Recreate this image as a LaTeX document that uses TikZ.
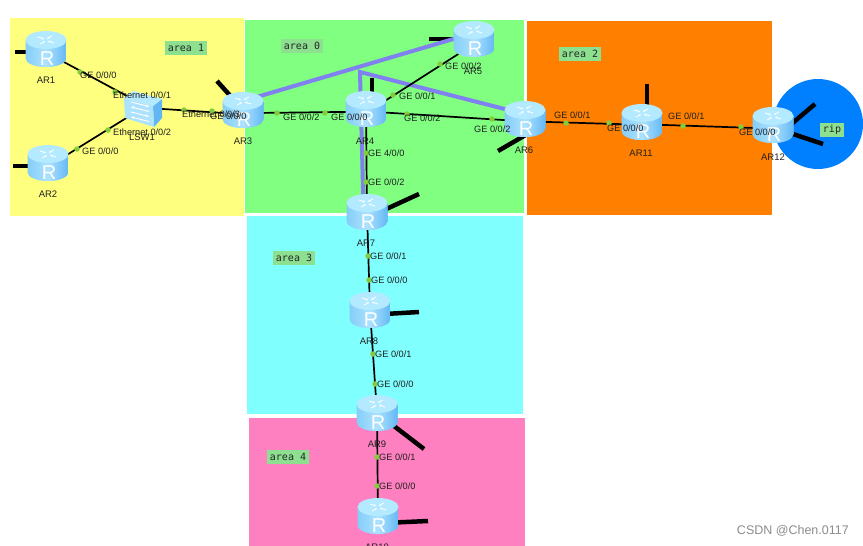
\documentclass[tikz,border=0pt]{standalone}
\usepackage{fontspec}
\setmainfont{Liberation Sans}
\newfontfamily\monof{DejaVu Sans Mono}
\usetikzlibrary{arrows.meta}
\pgfdeclarelayer{areas}
\pgfdeclarelayer{links}
\pgfsetlayers{areas,links,main}
\definecolor{cyellow}{HTML}{FFFF7F}
\definecolor{cgreen}{HTML}{80FF80}
\definecolor{corange}{HTML}{FF8000}
\definecolor{ccyan}{HTML}{80FFFF}
\definecolor{cpink}{HTML}{FF80C0}
\definecolor{cblue}{HTML}{0080FF}
\definecolor{cpurple}{HTML}{8080F0}
\definecolor{cport}{HTML}{84CC3C}
\definecolor{cnote}{HTML}{8CE090}
\definecolor{ctext}{HTML}{202020}
\definecolor{rleft}{HTML}{84CDF8}
\definecolor{rmid}{HTML}{ACE2FE}
\definecolor{rright}{HTML}{62B6F4}
\definecolor{rtop}{HTML}{B4EAFF}
\newcommand{\routerart}{%
  \begin{scope}[shift={(path picture bounding box.center)}]
    \begin{scope}
      \clip (-20.5,-9) -- (-20.5,9) arc[start angle=180,end angle=0,x radius=20.5,y radius=9] -- (20.5,-9) -- cycle;
      \foreach \i in {-21,...,-1}{
        \pgfmathsetmacro{\pc}{(\i+21)/21*100}
        \fill[rmid!\pc!rleft] (\i,-10) rectangle (\i+1.6,19);}
      \foreach \i in {0,...,20}{
        \pgfmathsetmacro{\pc}{\i/21*100}
        \fill[rright!\pc!rmid] (\i,-10) rectangle (\i+1.6,19);}
    \end{scope}
    \fill[rtop] (0,-9) ellipse[x radius=20.5,y radius=9];
    \foreach \a/\b/\c/\d in {-8/-12/-2/-10, 8/-6/2/-8, 6/-13/1/-10.5, -6/-5/-1/-7.5}
      \draw[white,line width=.8pt,-{Stealth[length=2.2pt,width=2.2pt]}] (\a,\b) -- (\c,\d);
  \end{scope}}
\newcommand{\switchart}{%
  \begin{scope}[shift={(path picture bounding box.center)}]
    \fill[rright] (10,-3) -- (19,-10) -- (19,9) -- (11,18) -- cycle;
    \fill[rtop] (-19,-11) -- (-10,-18) -- (19,-10) -- (10,-3) -- cycle;
    \fill[rmid] (-19,-11) -- (10,-3) -- (11,18) -- (-18,9) -- cycle;
    \draw[white,line width=.9pt,-{Stealth[length=3pt,width=3pt]}] (-12,-7) -- (6,-2.5);
    \draw[white,line width=.9pt,{Stealth[length=3pt,width=3pt]}-] (-12,-2) -- (6,2.5);
    \draw[white,line width=.9pt,-{Stealth[length=3pt,width=3pt]}] (-12,3) -- (6,7.5);
    \draw[white,line width=.9pt,{Stealth[length=3pt,width=3pt]}-] (-12,8) -- (6,12.5);
  \end{scope}}
\tikzset{
  x=1pt,y=-1pt,
  router/.style={inner sep=0,minimum width=41pt,minimum height=36pt,path picture={\routerart}},
  routerglyph/.style={inner sep=0,text=white,font=\fontsize{20}{20}\selectfont},
  switchnode/.style={inner sep=0,minimum width=40pt,minimum height=38pt,path picture={\switchart}},
  link/.style={draw=black,line width=1.7pt,shorten <=-6pt,shorten >=-6pt},
  stub/.style={draw=black,line width=4.5pt,shorten <=-6pt},
  ospf/.style={draw=cpurple,line width=4pt,shorten <=-6pt,shorten >=-6pt},
  portdot/.style={circle,fill=cport,inner sep=0,minimum size=5.5pt},
  portlabel/.style={anchor=west,inner sep=0,text=ctext,font=\fontsize{9.2}{9.2}\selectfont},
  devlabel/.style={inner sep=0,text=ctext,font=\fontsize{9.5}{9.5}\selectfont},
  note/.style={fill=cnote,inner sep=0,minimum height=14.5pt,font=\monof\fontsize{10}{10}\selectfont,text=black!85},
  mark text/.style={text=black!45,font=\fontsize{12.5}{12.5}\selectfont}
}
\newcommand{\ifc}[4]{\node[portdot] (p#1) at (#2) {}; \node[portlabel] (l#1) at (#3) {#4};}
\newcommand{\rt}[4]{\node[router] (#1) at (#2) {}; \node[routerglyph,yshift=-10pt,xshift=1pt] (g#1) at (#2) {R}; \node[devlabel] (t#1) at (#3) {#4};}
\begin{document}
\begin{tikzpicture}
\useasboundingbox (0,0) rectangle (863,546);
\begin{pgfonlayer}{areas}
  \fill[white] (0,0) rectangle (863,546);
  \fill[cblue] (818,124) circle[radius=45];
  \fill[cyellow] (10,18) rectangle (244,216);
  \fill[cgreen] (245,20) rectangle (524,213);
  \fill[corange] (527,21) rectangle (772,215);
  \fill[ccyan] (247,216) rectangle (523,414);
  \fill[cpink] (249,418) rectangle (525,546);
\end{pgfonlayer}

\rt{AR1}{46,49}{46,80}{AR1}
\rt{AR2}{48,163}{48,194}{AR2}
\rt{AR3}{243,110}{243,141}{AR3}
\rt{AR4}{366,109}{365,141}{AR4}
\rt{AR5}{474,39}{473,71}{AR5}
\rt{AR6}{525,119}{524,150}{AR6}
\rt{AR7}{367,212}{366,243}{AR7}
\rt{AR8}{370,310}{369,341}{AR8}
\rt{AR9}{377,413}{377,444}{AR9}
\rt{AR10}{378,516}{377,547}{AR10}
\rt{AR11}{642,122}{641,153}{AR11}
\rt{AR12}{773,125}{773,157}{AR12}
\node[switchnode] (LSW1) at (143,109) {};
\node[devlabel] (tLSW1) at (142,137) {LSW1};

\coordinate (s1) at (15,52);
\coordinate (s2) at (13,166);
\coordinate (s3) at (217,81);
\coordinate (s4) at (372,78);
\coordinate (s5) at (429,39);
\coordinate (s6) at (498,151);
\coordinate (s7) at (419,194);
\coordinate (s8) at (419,312);
\coordinate (s9) at (424,449);
\coordinate (s10) at (428,521);
\coordinate (s11) at (647,84);
\coordinate (s12a) at (815,104);
\coordinate (s12b) at (823,144);
\coordinate (bend) at (360,72);

\begin{pgfonlayer}{links}
  \draw[stub] (AR1.center |- s1) -- (s1);
  \draw[stub] (AR2.center |- s2) -- (s2);
  \draw[stub] (AR3.center) -- (s3);
  \draw[stub] (AR4.center -| s4) -- (s4);
  \draw[stub] (AR5.west) -- (s5);
  \draw[stub] (AR6.-100) -- (s6);
  \draw[stub] (AR7.10) -- (s7);
  \draw[stub] (AR8.-10) -- (s8);
  \draw[stub] (AR9.center) -- (s9);
  \draw[stub] (AR10.-17) -- (s10);
  \draw[stub] (AR11.center -| s11) -- (s11);
  \draw[stub] (AR12.8) -- (s12a);
  \draw[stub] (AR12.-24) -- (s12b);
  \draw[ospf] (AR3.36) -- (AR5.west);
  \draw[ospf] (AR7.102) -- (bend) -- (AR6.154);
  \draw[link] (AR1.-35) -- (LSW1.143);
  \draw[link] (AR2.24) -- (LSW1.209);
  \draw[link] (LSW1.east) -- (AR3.188);
  \draw[link] (AR3.-8) -- (AR4.188);
  \draw[link] (AR4.24) -- (AR5.south west);
  \draw[link] (AR4.-10) -- (AR6.183);
  \draw[link] (AR4.center) -- (AR7.center);
  \draw[link] (AR6.-8) -- (AR11.186);
  \draw[link] (AR11.-8) -- (AR12.188);
  \draw[link] (AR7.center) -- (AR8.center);
  \draw[link] (AR8.center) -- (AR9.center);
  \draw[link] (AR9.center) -- (AR10.center);
\end{pgfonlayer}

\ifc{a}{80,72}{80,75}{GE 0/0/0}
\ifc{b}{115,92}{113,95}{Ethernet 0/0/1}
\ifc{c}{77,149}{82,151}{GE 0/0/0}
\ifc{d}{108,130}{113,132}{Ethernet 0/0/2}
\ifc{e}{184,110}{182,114}{Ethernet 0/0/3}
\ifc{f}{212,111}{210,116}{GE 0/0/0}
\ifc{g}{277,113}{283,117}{GE 0/0/2}
\ifc{h}{325,113}{331,117}{GE 0/0/0}
\ifc{i}{407,114}{404,118}{GE 0/0/2}
\ifc{j}{492,119}{474,129}{GE 0/0/2}
\ifc{k}{393,95}{399,96}{GE 0/0/1}
\ifc{m}{440,64}{445,66}{GE 0/0/2}
\ifc{n}{366,153}{368,153}{GE 4/0/0}
\ifc{o}{366,182}{368,182}{GE 0/0/2}
\ifc{q}{566,123}{554,115}{GE 0/0/1}
\ifc{r}{609,123}{607,128}{GE 0/0/0}
\ifc{s}{683,126}{668,116}{GE 0/0/1}
\ifc{t}{741,127}{739,132}{GE 0/0/0}
\ifc{u}{368,256}{370,256}{GE 0/0/1}
\ifc{v}{369,280}{371,280}{GE 0/0/0}
\ifc{w}{373,354}{375,354}{GE 0/0/1}
\ifc{x}{375,384}{377,384}{GE 0/0/0}
\ifc{y}{377,457}{379,457}{GE 0/0/1}
\ifc{z}{377,486}{379,486}{GE 0/0/0}

\node[note,minimum width=42pt] (n1) at (186,48) {area 1};
\node[note,minimum width=42pt] (n0) at (302,46) {area 0};
\node[note,minimum width=42pt] (n2) at (580,54) {area 2};
\node[note,minimum width=42pt] (n3) at (294,258) {area 3};
\node[note,minimum width=42pt] (n4) at (288,457) {area 4};
\node[note,minimum width=24pt] (nr) at (832,130) {rip};
\node[mark text,anchor=east,inner sep=0] (wm) at (849,531) {CSDN @Chen.0117};
\end{tikzpicture}
\end{document}
